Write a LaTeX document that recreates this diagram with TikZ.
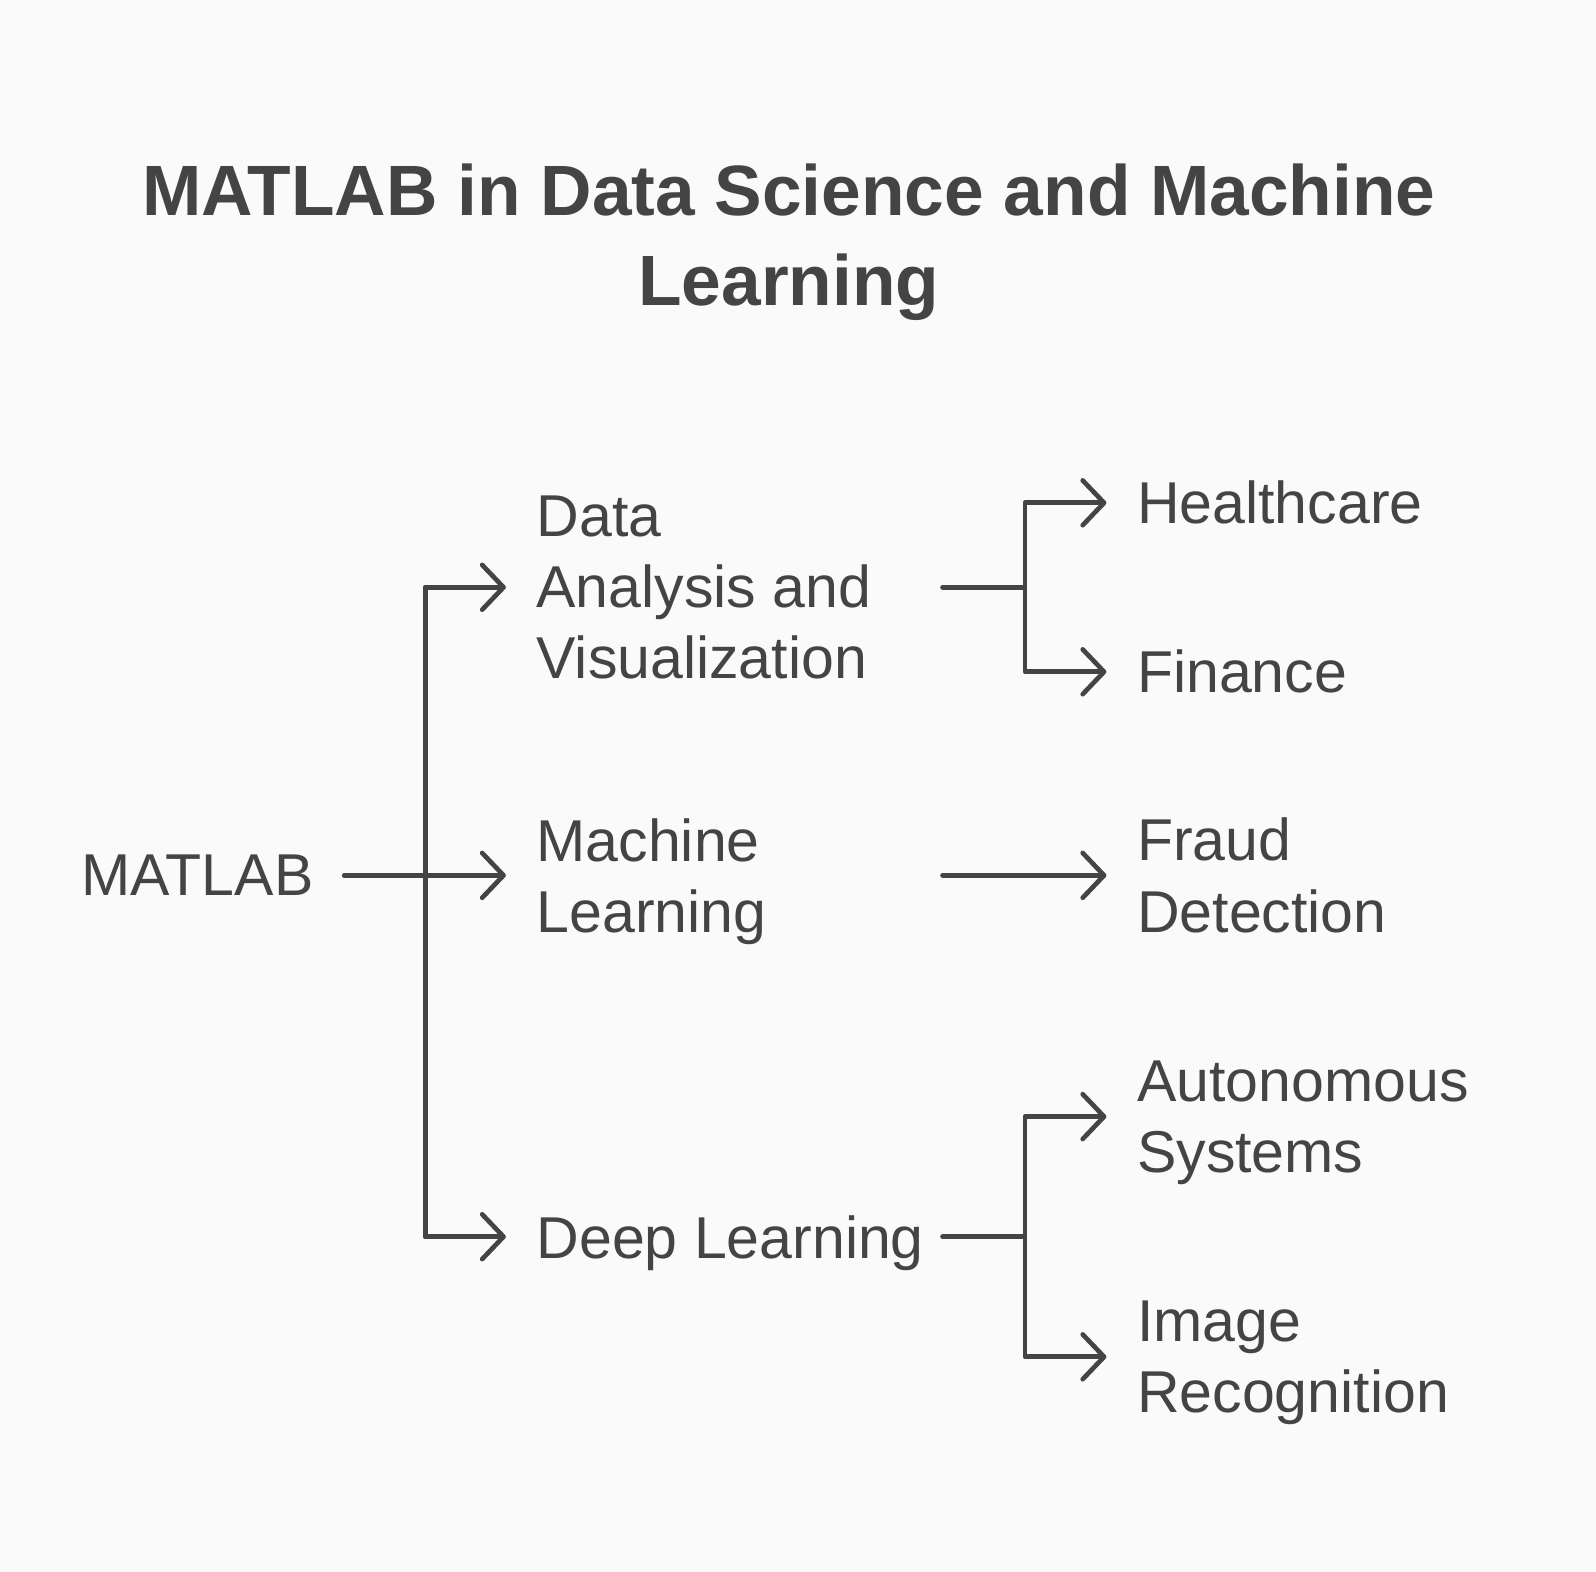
\documentclass[tikz,border=0pt]{standalone}
\usepackage{fontspec}
\setmainfont{Liberation Sans}
\usetikzlibrary{arrows.meta}
\definecolor{ink}{HTML}{444444}
\definecolor{bg}{HTML}{FAFAFA}
\newcommand{\lastln}[1]{\raisebox{0pt}[\height][0pt]{#1}}
\begin{document}
\begin{tikzpicture}[x=1pt,y=-1pt,
  lbl/.style={anchor=west, align=left, inner sep=0pt, text=ink, font=\fontsize{58}{70}\selectfont},
  ttl/.style={anchor=base, inner sep=0pt, text=ink, font=\fontsize{70}{88}\selectfont\bfseries},
  conn/.style={draw=ink, line width=4.6pt, line cap=round, line join=round},
  arr/.style={conn, -{Straight Barb[length=21pt,width=44pt,round]}}]
\fill[bg] (0,0) rectangle (1568,1544);
\useasboundingbox (0,0) rectangle (1568,1544);
\node[ttl] (t1) at (775,212) {MATLAB in Data Science and Machine};
\node[ttl] (t2) at (775,300) {Learning};
\coordinate (colA) at (418,0);
\coordinate (colB) at (926,0);
\coordinate (colC) at (1007,0);
\node[lbl] (mat) at (80,860) {MATLAB};
\node[lbl] (dav) at (527,577) {Data\\Analysis and\\Visualization};
\node[lbl] (ml) at (527,860) {Machine\\\lastln{Learning}};
\node[lbl] (dl) at (527,1215) {\lastln{Deep Learning}};
\node[lbl] (hc) at (1117,494) {Healthcare};
\node[lbl] (fin) at (1117,660) {Finance};
\node[lbl] (fd) at (1117,860) {Fraud\\Detection};
\node[lbl] (as) at (1117,1097) {Autonomous\\\lastln{Systems}};
\node[lbl] (ir) at (1117,1333) {Image\\\lastln{Recognition}};
% left tree
\draw[arr] ([xshift=30pt]mat.east) -- ([xshift=-30pt]ml.west);
\draw[arr] (colA |- dl.west) -- (colA |- dav.west) -- ([xshift=-30pt]dav.west);
\draw[arr] (colA |- dav.west) -- (colA |- dl.west) -- ([xshift=-30pt]dl.west);
% right trees
\draw[arr] (colB |- dav.west) -- (colC |- dav.west) |- ([xshift=-30pt]hc.west);
\draw[arr] (colC |- dav.west) |- ([xshift=-30pt]fin.west);
\draw[arr] (colB |- ml.west) -- ([xshift=-30pt]fd.west);
\draw[arr] (colB |- dl.west) -- (colC |- dl.west) |- ([xshift=-30pt]as.west);
\draw[arr] (colC |- dl.west) |- ([xshift=-30pt]ir.west);
\end{tikzpicture}
\end{document}
